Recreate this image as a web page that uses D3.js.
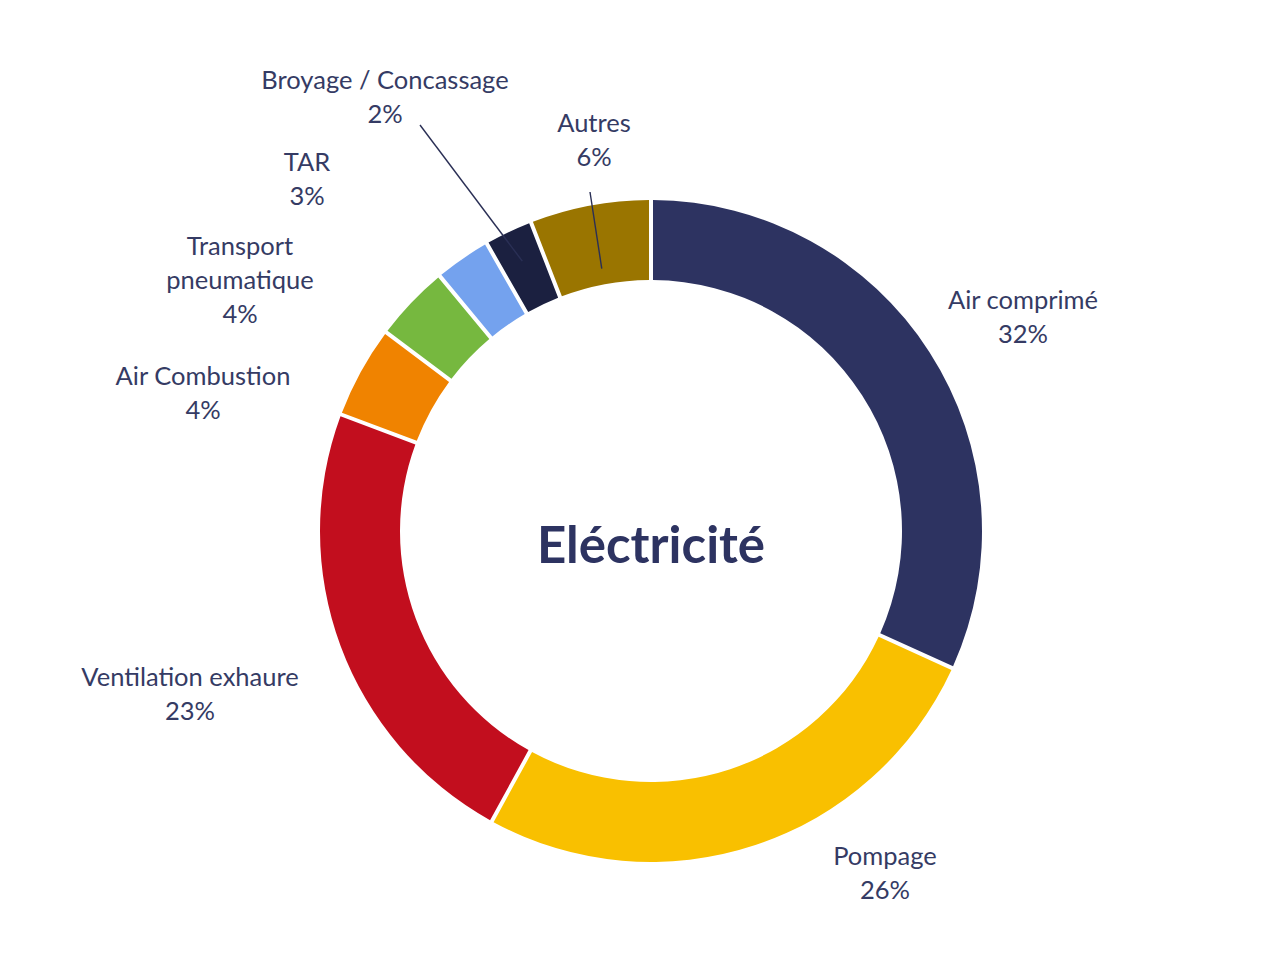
<!DOCTYPE html>
<html>
<head>
<meta charset="utf-8">
<script src="https://cdn.jsdelivr.net/npm/d3@7"></script>
<style>
  html, body { margin: 0; padding: 0; background: #ffffff; }
  svg { display: block; }
</style>
</head>
<body>
<svg id="chart" width="1280" height="960"></svg>
<script>
// ---- data ----
const categories = ["Air comprimé", "Pompage", "Ventilation exhaure", "Air Combustion",
                    "Transport pneumatique", "TAR", "Broyage / Concassage", "Autres"];
const values = [32.1, 26.4, 22.9, 4.4, 3.6, 2.6, 2.2, 5.8];
const colors = ["#2d3361", "#f9c000", "#c20e1e", "#f08300", "#76b83f", "#74a2ee", "#1b2040", "#9a7500"];
const title = "Eléctricité";

// ---- layout ----
const W = 1280, H = 960;
const cx = 651, cy = 531;
const rOuter = 331, rInner = 251;
const gap = 4;
const textColor = "#353b64";
const fontSize = 25.5;
const lineH = 34;

// label block centres (layout, not data) and label line-splitting
const labelLines = [["Air comprimé"], ["Pompage"], ["Ventilation exhaure"], ["Air Combustion"],
                    ["Transport", "pneumatique"], ["TAR"], ["Broyage / Concassage"], ["Autres"]];
const labelAt = [[1023, 317], [885, 873], [190, 694], [203, 393], [240, 280], [307, 179], [385, 97], [594, 140]];
// leader lines: [start point, radius of end along slice mid angle]
const leaders = { 6: {from: [420, 125], r: 299}, 7: {from: [590, 192], r: 267} };

const svg = d3.select("#chart");
const g = svg.append("g").attr("transform", `translate(${cx},${cy})`);

const data = categories.map((c, i) => ({ name: c, value: values[i], color: colors[i], i }));
const pie = d3.pie().value(d => d.value).sort(null).padAngle(gap / rOuter);
const arc = d3.arc().innerRadius(rInner).outerRadius(rOuter).padRadius(rOuter);
const arcs = pie(data);

g.selectAll("path.slice")
  .data(arcs)
  .join("path")
  .attr("class", "slice")
  .attr("d", arc)
  .attr("fill", d => d.data.color);

// leader lines
arcs.forEach((a, i) => {
  const L = leaders[i];
  if (!L) return;
  const mid = (a.startAngle + a.endAngle) / 2;
  const ex = Math.sin(mid) * L.r, ey = -Math.cos(mid) * L.r;
  g.append("line")
    .attr("x1", L.from[0] - cx).attr("y1", L.from[1] - cy)
    .attr("x2", ex).attr("y2", ey)
    .attr("stroke", "#2a2f55")
    .attr("stroke-width", 1.4);
});

// labels
const fmt = v => Math.round(v) + "%";
arcs.forEach((a, i) => {
  const lines = labelLines[i].concat([fmt(a.data.value)]);
  const [lx, ly] = labelAt[i];
  const n = lines.length;
  const t = svg.append("text")
    .attr("text-anchor", "middle")
    .attr("font-family", "Lato, 'Open Sans', sans-serif")
    .attr("font-size", fontSize)
    .attr("fill", textColor);
  lines.forEach((ln, k) => {
    t.append("tspan")
      .attr("x", lx)
      .attr("y", ly + (k - (n - 1) / 2) * lineH)
      .attr("dy", "0.35em")
      .text(ln);
  });
});

// centre title
svg.append("text")
  .attr("x", cx).attr("y", 545)
  .attr("dy", "0.35em")
  .attr("text-anchor", "middle")
  .attr("font-family", "Lato, 'Open Sans', sans-serif")
  .attr("font-weight", "bold")
  .attr("font-size", 51)
  .attr("fill", "#2d3361")
  .text(title);
</script>
</body>
</html>
